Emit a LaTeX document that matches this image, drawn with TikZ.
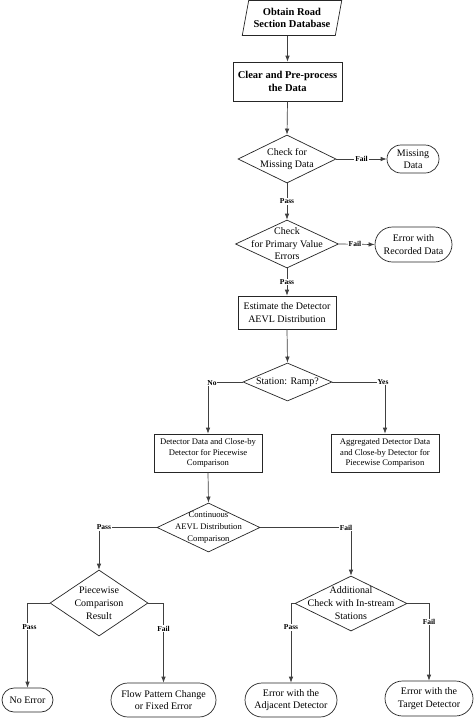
\documentclass[tikz,border=0pt]{standalone}
\usepackage{fontspec}
\setmainfont{Liberation Serif}
\usetikzlibrary{shapes.geometric,shapes.misc,arrows.meta}
\tikzset{
  fnorm/.style={font=\fontsize{10}{12.5}\selectfont},
  fsmall/.style={font=\fontsize{8.6}{10.6}\selectfont},
  fbold/.style={font=\fontsize{10.5}{12.5}\selectfont\bfseries},
  stepbox/.style={rectangle, draw=black!85, line width=0.7pt, align=center, inner sep=0pt},
  decision/.style={diamond, draw=black!85, line width=0.7pt, inner sep=0pt},
  terminal/.style={rounded rectangle, draw=black!85, line width=0.7pt, align=center, inner sep=0pt},
  iobox/.style={trapezium, trapezium left angle=74, trapezium right angle=106, trapezium stretches=true,
                draw=black!85, line width=0.7pt, align=center, inner sep=0pt},
  dtext/.style={align=center, inner sep=0pt},
  lbl/.style={font=\fontsize{7.5}{8}\selectfont\bfseries, fill=white, inner sep=0.8pt},
  conn/.style={draw=black!75, line width=0.7pt, -{Latex[length=6pt,width=4.5pt]}},
}
\begin{document}
\begin{tikzpicture}[x=1pt,y=-1pt]
\useasboundingbox (0,0) rectangle (474,718);
\fill[white] (0,0) rectangle (474,718);

% nodes
\node[iobox, fbold, minimum width=100pt, minimum height=35pt] (p) at (292,18) {Obtain Road\\Section Database};
\node[stepbox, fbold, minimum width=109pt, minimum height=39pt] (c1) at (287.5,81.5) {Clear and Pre-process\\the Data};
\node[decision, minimum width=98pt, minimum height=48pt] (d1) at (287,159) {};
\node[dtext, fnorm] (d1t) at (d1) {Check for\\Missing Data};
\node[terminal, fnorm, minimum width=52pt, minimum height=28pt] (t1) at (413,159) {Missing\\Data};
\node[decision, minimum width=103pt, minimum height=48pt] (d2) at (287,244) {};
\node[dtext, fnorm] (d2t) at (d2) {Check\\for Primary Value\\Errors};
\node[terminal, fnorm, minimum width=77pt, minimum height=35pt] (t2) at (413.5,244.5) {Error with\\Recorded Data};
\node[stepbox, fnorm, minimum width=98pt, minimum height=33pt] (b2) at (287,312.5) {Estimate the Detector\\AEVL Distribution};
\node[decision, minimum width=89pt, minimum height=38pt] (d3) at (287.5,382) {};
\node[dtext, fnorm] (d3t) at (d3) {Station: Ramp?};
\node[stepbox, fsmall, minimum width=108pt, minimum height=38pt] (bL) at (208,453) {Detector Data and Close-by\\Detector for Piecewise\\Comparison};
\node[stepbox, fsmall, minimum width=108pt, minimum height=38pt] (bR) at (385,453) {Aggregated Detector Data\\and Close-by Detector for\\Piecewise Comparison};
\node[decision, minimum width=103pt, minimum height=49pt] (d4) at (208.5,527.5) {};
\node[dtext, fsmall, font=\fontsize{8.6}{12}\selectfont] (d4t) at (d4) {Continuous\\AEVL Distribution\\Comparison};
\node[decision, minimum width=98pt, minimum height=66pt] (d5) at (99,603) {};
\node[dtext, fnorm, font=\fontsize{10}{13}\selectfont] (d5t) at (d5) {Piecewise\\Comparison\\Result};
\node[decision, minimum width=112pt, minimum height=55pt] (d6) at (351,603.5) {};
\node[dtext, fnorm, font=\fontsize{10}{13}\selectfont] (d6t) at (d6) {Additional\\Check with In-stream\\Stations};
\node[terminal, fnorm, minimum width=51pt, minimum height=24pt] (t3) at (27.5,700) {No Error};
\node[terminal, fnorm, minimum width=105pt, minimum height=34pt] (t4) at (163.5,700) {Flow Pattern Change\\or Fixed Error};
\node[terminal, fnorm, minimum width=92pt, minimum height=34pt] (t5) at (291,700) {Error with the\\Adjacent Detector};
\node[terminal, fnorm, minimum width=88pt, minimum height=35pt] (t6) at (429,698.5) {Error with the\\Target Detector};

% connectors
\draw[conn] (p.south -| c1.north) -- (c1.north);
\draw[conn] (c1.south) -- (d1.north);
\draw[conn] (d1.east) -- node[lbl] {Fail} (t1.west);
\draw[conn] (d1.south) -- node[lbl] {Pass} (d2.north);
\draw[conn] (d2.east) -- node[lbl, pos=0.45] {Fail} (t2.west);
\draw[conn] (d2.south) -- node[lbl] {Pass} (b2.north);
\draw[conn] (b2.south) -- (d3.north);
\draw[conn] (d3.west) -| node[lbl, pos=0.5, xshift=4pt, yshift=-1pt] {No} (bL.north);
\draw[conn] (d3.east) -| node[lbl, pos=0.5, xshift=-2pt] {Yes} (bR.north);
\draw[conn] (bL.south) -- (d4.north);
\draw[conn] (d4.west) -| node[lbl, pos=0.5, xshift=5pt] {Pass} (d5.north);
\draw[conn] (d4.east) -| node[lbl, pos=0.5, xshift=-5pt] {Fail} (d6.north);
\draw[conn] (d5.west) -| node[lbl, pos=0.64, xshift=2pt] {Pass} (t3.north);
\draw[conn] (d5.east) -| node[lbl, pos=0.66] {Fail} (t4.north);
\draw[conn] (d6.west) -| node[lbl, pos=0.65] {Pass} (t5.north);
\draw[conn] (d6.east) -| node[lbl, pos=0.62] {Fail} (t6.north);
\end{tikzpicture}
\end{document}
